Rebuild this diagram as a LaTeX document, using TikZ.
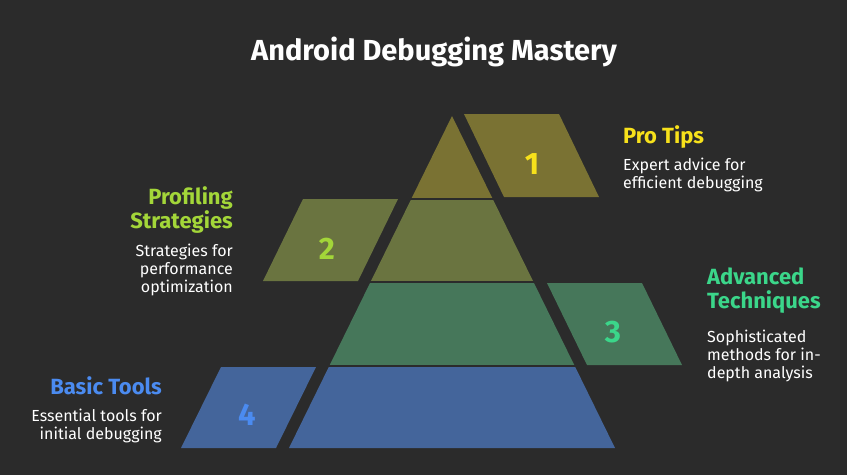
\documentclass[tikz,border=0pt]{standalone}
\usepackage{xcolor}
\usepackage{fontspec}
\setmainfont{Fira Sans}
\usepackage{tikz}

\definecolor{canvas}{HTML}{2B2B2B}
\definecolor{tipsfill}{HTML}{7A7233}
\definecolor{proffill}{HTML}{6A7440}
\definecolor{advfill}{HTML}{46775A}
\definecolor{basicfill}{HTML}{44659B}
\definecolor{tipsink}{HTML}{F7E11B}
\definecolor{profink}{HTML}{A3D639}
\definecolor{advink}{HTML}{3BD68A}
\definecolor{basicink}{HTML}{4B8BF0}

\begin{document}
\begin{tikzpicture}[x=1pt, y=-1pt,
    heading/.style={font=\fontsize{22}{24}\selectfont\bfseries, inner sep=0pt},
    note/.style={font=\fontsize{16}{18}\selectfont, text=white, inner sep=0pt},
    number/.style={font=\fontsize{31}{31}\selectfont\bfseries, inner sep=0pt}]
    \fill[canvas] (0, 0) rectangle (847, 475);

    \node[font=\fontsize{29}{29}\selectfont\bfseries, text=white] at (434, 52) (title) {Android Debugging Mastery};

    \begin{scope}
        \clip (452, 116) -- (615, 448) -- (289, 448) -- cycle;
        \fill[tipsfill] (280, 110) rectangle (625, 198);
        \fill[proffill] (280, 200) rectangle (625, 281);
        \fill[advfill] (280, 283) rectangle (625, 365);
        \fill[basicfill] (280, 367) rectangle (625, 450);
    \end{scope}

    \fill[tipsfill] (464, 114) -- (559, 114) -- (599, 197) -- (504, 197) -- cycle;
    \fill[proffill] (303, 199) -- (398, 199) -- (358, 281) -- (263, 281) -- cycle;
    \fill[advfill] (547, 283) -- (642, 283) -- (682, 365) -- (587, 365) -- cycle;
    \fill[basicfill] (221, 367) -- (316, 367) -- (276, 448) -- (181, 448) -- cycle;

    \node[number, text=tipsink] at (532, 164) (n1) {1};
    \node[number, text=profink] at (327, 249) (n2) {2};
    \node[number, text=advink] at (613, 332) (n3) {3};
    \node[number, text=basicink] at (247, 415) (n4) {4};

    \node[heading, text=tipsink, anchor=north west] at (623, 125) (tips) {Pro Tips};
    \node[note, anchor=north west, align=left] at (623, 158) (tipsnote) {Expert advice for\\efficient debugging};

    \node[heading, text=profink, anchor=north east, align=right] at (233, 186) (prof) {Profiling\\Strategies};
    \node[note, anchor=north east, align=right] at (233, 244) (profnote) {Strategies for\\performance\\optimization};

    \node[heading, text=advink, anchor=north west, align=left] at (707, 268) (adv) {Advanced\\Techniques};
    \node[note, anchor=north west, align=left] at (707, 330) (advnote) {Sophisticated\\methods for in-\\depth analysis};

    \node[heading, text=basicink, anchor=north east] at (162, 376) (basic) {Basic Tools};
    \node[note, anchor=north east, align=right] at (162, 409) (basicnote) {Essential tools for\\initial debugging};
\end{tikzpicture}
\end{document}
